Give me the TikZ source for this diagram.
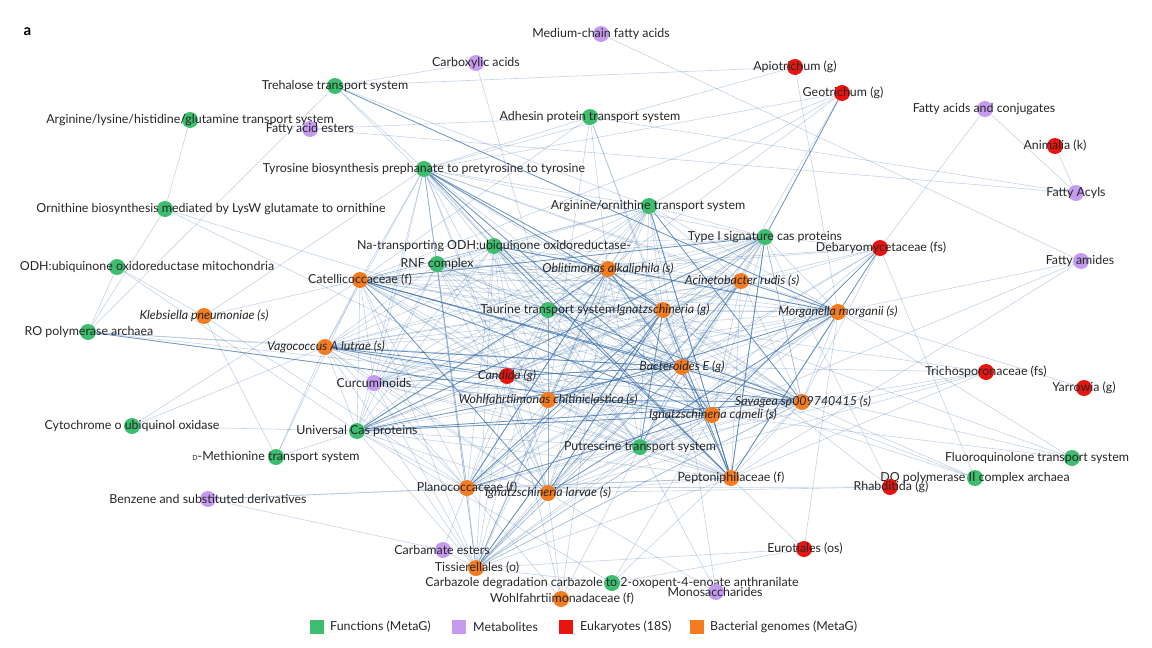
\documentclass[tikz,border=0pt]{standalone}
\usepackage{fontspec}
\setmainfont{Lato}
\usetikzlibrary{backgrounds}
\definecolor{cf}{HTML}{3DBE6E}
\definecolor{cm}{HTML}{C59BF0}
\definecolor{ce}{HTML}{E8140F}
\definecolor{cb}{HTML}{F47C20}
\definecolor{ced}{HTML}{3B6FA8}
\tikzset{
 dot/.style={circle,inner sep=0pt,minimum size=16pt,draw=none},
 lab/.style={inner sep=0pt,font=\fontsize{12.4}{13}\selectfont,text=black!85},
 ew/.style={draw=ced,draw opacity=0.3,line width=0.6pt},
 ed/.style={draw=ced,draw opacity=0.65,line width=0.8pt},
 leg/.style={minimum size=14pt,inner sep=0pt},
}
\newcommand\nd[6]{\node[dot,fill=#4] (#1) at (#2,#3) {}; \node[lab] (#1-t) at (#5,#3) {#6};}
\begin{document}
\begin{tikzpicture}[x=1pt,y=-1pt]
\useasboundingbox (0,0) rectangle (1152,648);
\node[font=\bfseries\fontsize{15}{15}\selectfont,anchor=west] (alab) at (20,32) {a};
% functions
\nd{treh}{335}{86}{cf}{335}{Trehalose transport system}
\nd{arglys}{190}{120}{cf}{190}{Arginine/lysine/histidine/glutamine transport system}
\nd{adh}{590}{117}{cf}{590}{Adhesin protein transport system}
\nd{tyro}{424}{169}{cf}{424}{Tyrosine biosynthesis prephanate to pretyrosine to tyrosine}
\nd{orn}{165}{209}{cf}{211}{Ornithine biosynthesis mediated by LysW glutamate to ornithine}
\nd{argorn}{649}{206}{cf}{648}{Arginine/ornithine transport system}
\nd{typeI}{765}{237}{cf}{765}{Type I signature cas proteins}
\nd{na}{494}{246}{cf}{494}{Na-transporting ODH:ubiquinone oxidoreductase-}
\nd{rnf}{437}{264}{cf}{437}{RNF complex}
\nd{odh}{117}{267}{cf}{147}{ODH:ubiquinone oxidoreductase mitochondria}
\nd{taur}{548}{310}{cf}{548}{Taurine transport system}
\nd{ropol}{88}{332}{cf}{89}{RO polymerase archaea}
\nd{cyto}{132}{426}{cf}{132}{Cytochrome o ubiquinol oxidase}
\nd{ucas}{357}{431}{cf}{357}{Universal Cas proteins}
\nd{dmet}{276}{457}{cf}{276}{{\scriptsize D}-Methionine transport system}
\nd{putr}{640}{447}{cf}{640}{Putrescine transport system}
\nd{fluo}{1072}{458}{cf}{1037}{Fluoroquinolone transport system}
\nd{dopol}{975}{478}{cf}{975}{DO polymerase II complex archaea}
\nd{carbaz}{612}{583}{cf}{612}{Carbazole degradation carbazole to 2-oxopent-4-enoate anthranilate}
% metabolites
\nd{medium}{601}{34}{cm}{601}{Medium-chain fatty acids}
\nd{carbox}{476}{63}{cm}{476}{Carboxylic acids}
\nd{fae}{310}{129}{cm}{310}{Fatty acid esters}
\nd{faconj}{985}{109}{cm}{984}{Fatty acids and conjugates}
\nd{facyl}{1076}{193}{cm}{1076}{Fatty Acyls}
\nd{famid}{1081}{261}{cm}{1080}{Fatty amides}
\nd{curc}{374}{383}{cm}{374}{Curcuminoids}
\nd{benz}{208}{499}{cm}{208}{Benzene and substituted derivatives}
\nd{carbam}{443}{550}{cm}{442}{Carbamate esters}
\nd{mono}{716}{592}{cm}{715}{Monosaccharides}
% eukaryotes
\nd{apio}{795}{67}{ce}{795}{Apiotrichum (g)}
\nd{geo}{842}{93}{ce}{843}{Geotrichum (g)}
\nd{anim}{1055}{146}{ce}{1055}{Animalia (k)}
\nd{deba}{880}{248}{ce}{881}{Debaryomycetaceae (fs)}
\nd{cand}{507}{376}{ce}{507}{\itshape Candida (g)}
\nd{trich}{986}{372}{ce}{986}{Trichosporonaceae (fs)}
\nd{yarr}{1084}{388}{ce}{1084}{Yarrowia (g)}
\nd{rhab}{890}{487}{ce}{891}{Rhabditida (g)}
\nd{euro}{804}{549}{ce}{805}{Eurotiales (os)}
% bacteria
\nd{cat}{360}{280}{cb}{360}{Catellicoccaceae (f)}
\nd{kleb}{204}{316}{cb}{204}{\itshape Klebsiella pneumoniae (s)}
\nd{obl}{608}{269}{cb}{608}{\itshape Oblitimonas alkaliphila (s)}
\nd{acin}{741}{281}{cb}{742}{\itshape Acinetobacter rudis (s)}
\nd{ignG}{663}{310}{cb}{663}{\itshape Ignatzschineria (g)}
\nd{morg}{838}{312}{cb}{838}{\itshape Morganella morganii (s)}
\nd{vago}{325}{347}{cb}{326}{\itshape Vagococcus A lutrae (s)}
\nd{bact}{682}{367}{cb}{682}{\itshape Bacteroides E (g)}
\nd{wohl}{548}{400}{cb}{548}{\itshape Wohlfahrtiimonas chitiniclastica (s)}
\nd{sav}{802}{402}{cb}{803}{\itshape Savagea sp009740415 (s)}
\nd{igncam}{712}{415}{cb}{713}{\itshape Ignatzschineria cameli (s)}
\nd{pept}{731}{478}{cb}{731}{Peptoniphilaceae (f)}
\nd{plano}{467}{488}{cb}{467}{Planococcaceae (f)}
\nd{ignlar}{548}{493}{cb}{548}{\itshape Ignatzschineria larvae (s)}
\nd{tiss}{476}{568}{cb}{477}{Tissierellales (o)}
\nd{wfam}{561}{599}{cb}{562}{Wohlfahrtiimonadaceae (f)}
% legend
\node[leg,fill=cf] (l1) at (317,627) {}; \node[lab,anchor=west] (l1t) at (330,627) {Functions (MetaG)};
\node[leg,fill=cm] (l2) at (459,627) {}; \node[lab,anchor=west] (l2t) at (473,627) {Metabolites};
\node[leg,fill=ce] (l3) at (566,627) {}; \node[lab,anchor=west] (l3t) at (580,627) {Eukaryotes (18S)};
\node[leg,fill=cb] (l4) at (697,627) {}; \node[lab,anchor=west] (l4t) at (710,627) {Bacterial genomes (MetaG)};
\begin{pgfonlayer}{background}
\foreach \a [count=\i] in {cat,rnf,na,obl,acin,taur,ignG,morg,vago,bact,cand,wohl,sav,igncam,ucas,putr,pept,plano,ignlar,typeI,argorn,tyro,tiss,curc}{
 \foreach \b [count=\j] in {cat,rnf,na,obl,acin,taur,ignG,morg,vago,bact,cand,wohl,sav,igncam,ucas,putr,pept,plano,ignlar,typeI,argorn,tyro,tiss,curc}{
  \ifnum\j>\i \draw[ew] (\a) -- (\b); \fi
 }}
\foreach \a/\b in {treh/apio,treh/argorn,treh/morg,treh/na,treh/ropol,treh/tyro,arglys/orn,fae/adh,fae/facyl,carbox/taur,carbox/treh,medium/famid,apio/morg,apio/tyro,
 geo/typeI,geo/argorn,geo/cat,geo/tyro,geo/bact,geo/obl,faconj/deba,faconj/facyl,anim/facyl,adh/facyl,adh/tyro,adh/cat,adh/obl,adh/ignG,adh/bact,adh/wohl,
 famid/morg,famid/pept,famid/igncam,deba/ignG,deba/acin,deba/bact,deba/sav,deba/igncam,deba/pept,deba/typeI,deba/cat,deba/obl,deba/putr,
 trich/bact,trich/sav,trich/pept,trich/ignlar,trich/putr,trich/cat,yarr/morg,fluo/ignG,fluo/igncam,fluo/morg,fluo/bact,dopol/sav,dopol/bact,dopol/cat,dopol/deba,
 rhab/ignlar,rhab/plano,rhab/obl,rhab/typeI,euro/carbaz,euro/tiss,euro/pept,euro/morg,mono/bact,mono/ignlar,mono/putr,carbam/benz,carbam/plano,carbam/tiss,
 benz/plano,benz/pept,dmet/ucas,dmet/kleb,dmet/vago,dmet/cat,cyto/ucas,cyto/vago,cyto/cat,ropol/igncam,ropol/cand,ropol/vago,ropol/odh,ropol/bact,
 odh/kleb,odh/ucas,kleb/cat,kleb/plano,kleb/tyro,orn/bact,orn/cand,orn/ropol,wfam/plano,wfam/ignlar,wfam/bact,wfam/cand,wfam/obl,carbaz/igncam,carbaz/sav,carbaz/ucas,
 carbaz/tiss,tiss/bact,tiss/igncam,tiss/sav,tiss/obl,tiss/acin,tiss/ignG,plano/typeI,plano/deba,pept/typeI,sav/typeI}
 {\draw[ew] (\a) -- (\b);}
\foreach \a/\b in {tyro/igncam,tyro/pept,tyro/obl,tyro/ignG,cat/sav,cat/igncam,cat/ignlar,cat/bact,vago/sav,vago/bact,vago/cand,na/morg,na/pept,obl/ignG,obl/igncam,
 obl/ucas,acin/bact,acin/morg,ignG/pept,ignG/plano,bact/pept,bact/ucas,bact/cand,igncam/pept,igncam/ucas,argorn/pept,argorn/sav,typeI/pept,typeI/ucas,typeI/cat,
 deba/pept,deba/igncam,treh/morg,geo/typeI,plano/obl,plano/igncam,ignlar/morg,ignlar/ignG,wohl/sav,wohl/morg,tiss/ignG,ropol/igncam,putr/ignG,taur/sav,ucas/sav}
 {\draw[ed] (\a) -- (\b);}
\end{pgfonlayer}
\end{tikzpicture}
\end{document}
